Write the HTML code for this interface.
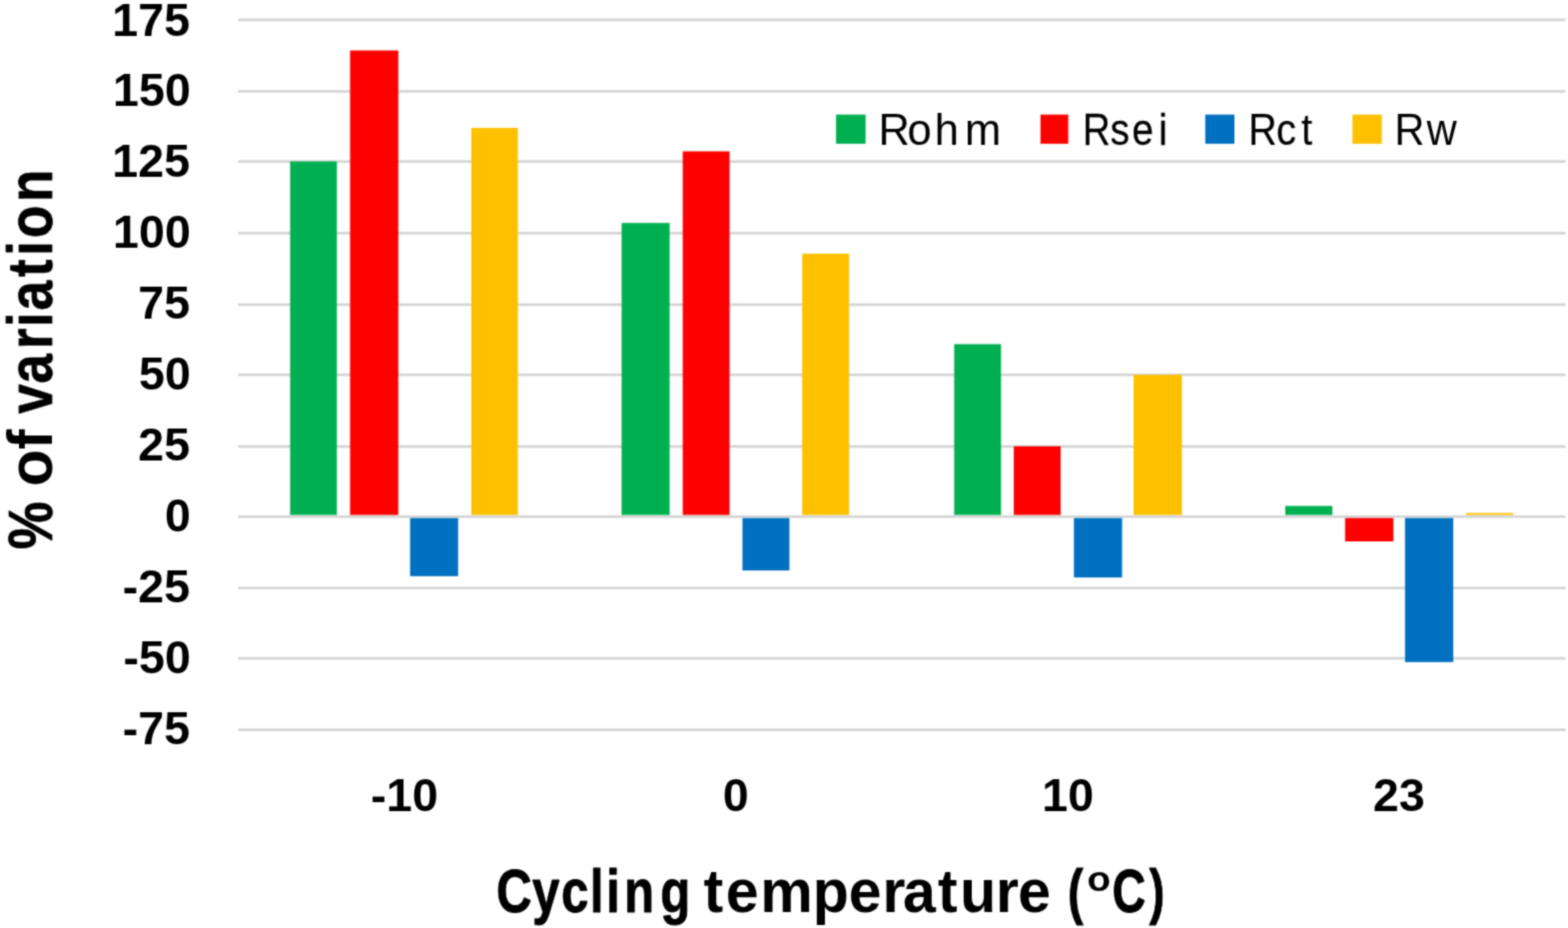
<!DOCTYPE html>
<html lang="en">
<head>
<meta charset="utf-8">
<title>% of variation vs cycling temperature</title>
<style>
html,body{margin:0;padding:0;background:#fff;}
body{width:1570px;height:929px;overflow:hidden;}
svg{display:block;}
text{font-family:"Liberation Sans",sans-serif;fill:#000;}
.b{font-weight:bold;}
</style>
</head>
<body>
<svg width="1570" height="929" viewBox="0 0 1570 929">
<defs>
<filter id="soft" x="0" y="0" width="1570" height="929" filterUnits="userSpaceOnUse" color-interpolation-filters="sRGB">
<feConvolveMatrix order="5" kernelMatrix="0.00009 0.00198 0.00548 0.00198 0.00009 0.00198 0.04220 0.11707 0.04220 0.00198 0.00548 0.11707 0.32480 0.11707 0.00548 0.00198 0.04220 0.11707 0.04220 0.00198 0.00009 0.00198 0.00548 0.00198 0.00009" edgeMode="duplicate" preserveAlpha="true"/>
</filter>
</defs>
<g filter="url(#soft)">
<rect x="0" y="0" width="1570" height="929" fill="#ffffff"/>

<g fill="#D5D5D5">
<rect x="238.3" y="18.55" width="1329.30" height="2.7"/>
<rect x="238.3" y="90.15" width="1329.30" height="2.7"/>
<rect x="238.3" y="160.35" width="1329.30" height="2.7"/>
<rect x="238.3" y="232.05" width="1329.30" height="2.7"/>
<rect x="238.3" y="303.65" width="1329.30" height="2.7"/>
<rect x="238.3" y="373.85" width="1329.30" height="2.7"/>
<rect x="238.3" y="445.65" width="1329.30" height="2.7"/>
<rect x="238.3" y="515.85" width="1329.30" height="2.7"/>
<rect x="238.3" y="587.35" width="1329.30" height="2.7"/>
<rect x="238.3" y="657.65" width="1329.30" height="2.7"/>
<rect x="238.3" y="729.25" width="1329.30" height="2.7"/>
</g>
<g>
<rect x="290.5" y="161.6" width="46.80" height="353.90" fill="#00B050"/>
<rect x="350.5" y="50.5" width="48.30" height="465.00" fill="#FF0000"/>
<rect x="410.6" y="518.6" width="48.10" height="58.20" fill="#0070C0"/>
<rect x="471.9" y="128.0" width="46.60" height="387.50" fill="#FFC000"/>
<rect x="622.4" y="223.2" width="48.10" height="292.30" fill="#00B050"/>
<rect x="683.6" y="151.5" width="46.90" height="364.00" fill="#FF0000"/>
<rect x="743.4" y="518.6" width="47.00" height="52.50" fill="#0070C0"/>
<rect x="803.2" y="253.9" width="46.90" height="261.60" fill="#FFC000"/>
<rect x="955.4" y="344.5" width="46.90" height="171.00" fill="#00B050"/>
<rect x="1015.1" y="446.8" width="46.90" height="68.70" fill="#FF0000"/>
<rect x="1075.3" y="518.6" width="48.20" height="59.50" fill="#0070C0"/>
<rect x="1135.0" y="375.2" width="48.40" height="140.30" fill="#FFC000"/>
<rect x="1286.9" y="506.5" width="47.20" height="9.00" fill="#00B050"/>
<rect x="1346.8" y="518.6" width="48.40" height="23.40" fill="#FF0000"/>
<rect x="1406.8" y="518.6" width="48.30" height="144.20" fill="#0070C0"/>
<rect x="1468.0" y="513.6" width="47.10" height="1.90" fill="#FFC000"/>
</g>
<g class="b" font-size="45.3">
<text x="112.31" y="35.50" textLength="77.85" lengthAdjust="spacingAndGlyphs">175</text>
<text x="113.04" y="106.47" textLength="77.85" lengthAdjust="spacingAndGlyphs">150</text>
<text x="112.31" y="177.44" textLength="77.85" lengthAdjust="spacingAndGlyphs">125</text>
<text x="113.04" y="248.41" textLength="77.85" lengthAdjust="spacingAndGlyphs">100</text>
<text x="138.26" y="319.38" textLength="51.90" lengthAdjust="spacingAndGlyphs">75</text>
<text x="138.99" y="390.35" textLength="51.90" lengthAdjust="spacingAndGlyphs">50</text>
<text x="138.26" y="461.32" textLength="51.90" lengthAdjust="spacingAndGlyphs">25</text>
<text x="164.94" y="532.29" textLength="25.95" lengthAdjust="spacingAndGlyphs">0</text>
<text x="122.73" y="603.26" textLength="67.44" lengthAdjust="spacingAndGlyphs">-25</text>
<text x="123.45" y="674.23" textLength="67.44" lengthAdjust="spacingAndGlyphs">-50</text>
<text x="122.73" y="745.20" textLength="67.44" lengthAdjust="spacingAndGlyphs">-75</text>
</g>
<g class="b" font-size="45.3">
<text x="371.20" y="811.8" textLength="67.44" lengthAdjust="spacingAndGlyphs">-10</text>
<text x="723.74" y="811.8" textLength="25.95" lengthAdjust="spacingAndGlyphs">0</text>
<text x="1043.24" y="811.8" textLength="51.90" lengthAdjust="spacingAndGlyphs">10</text>
<text x="1374.70" y="811.8" textLength="51.90" lengthAdjust="spacingAndGlyphs">23</text>
</g>
<g font-size="44.3">
<rect x="837.1" y="114.7" width="29.60" height="29.2" fill="#00B050"/>
<text y="145.2"><tspan x="879.59 908.38 935.79 965.94" textLength="116.30" lengthAdjust="spacingAndGlyphs">Rohm</tspan></text>
<rect x="1041.8" y="114.7" width="27.80" height="29.2" fill="#FF0000"/>
<text y="145.2"><tspan x="1083.91 1111.82 1133.57 1160.27" textLength="77.03" lengthAdjust="spacingAndGlyphs" stroke="#000" stroke-width="0.27" stroke-linejoin="round">Rsei</tspan></text>
<rect x="1206.8" y="114.7" width="29.20" height="29.2" fill="#0070C0"/>
<text y="145.2"><tspan x="1249.90 1277.94 1302.96" textLength="59.42" lengthAdjust="spacingAndGlyphs" stroke="#000" stroke-width="0.21" stroke-linejoin="round">Rct</tspan></text>
<rect x="1354.2" y="114.7" width="29.40" height="29.2" fill="#FFC000"/>
<text y="145.2"><tspan x="1396.34 1428.51" textLength="60.35" lengthAdjust="spacingAndGlyphs">Rw</tspan></text>
</g>
<text class="b" font-size="61.8"><tspan x="496.94 532.95 562.05 590.65 607.05 624.92 661.20" y="913.00" textLength="177.20" lengthAdjust="spacingAndGlyphs" stroke="#000" stroke-width="0.94" stroke-linejoin="round">Cycling</tspan> <tspan x="704.40 726.63 761.14 813.82 849.78 883.52 903.92 939.06 961.26 997.12 1019.21" y="913.00" textLength="341.51" lengthAdjust="spacingAndGlyphs">temperature</tspan> <tspan x="1069.32" y="913.00" textLength="15.32" lengthAdjust="spacingAndGlyphs" stroke="#000" stroke-width="1.00" stroke-linejoin="round">(</tspan><tspan x="1088.59" y="892.10" textLength="23.68" lengthAdjust="spacingAndGlyphs" font-size="35.0">o</tspan><tspan x="1113.83 1150.63" y="913.00" textLength="48.69" lengthAdjust="spacingAndGlyphs" stroke="#000" stroke-width="1.00" stroke-linejoin="round">C)</tspan></text>
<text class="b" font-size="63.2" transform="translate(51.9,549.4) rotate(-90)"><tspan x="-0.54" y="0.00" textLength="47.91" lengthAdjust="spacingAndGlyphs" stroke="#000" stroke-width="0.70" stroke-linejoin="round">%</tspan> <tspan x="62.40 99.40" y="0.00" textLength="57.39" lengthAdjust="spacingAndGlyphs">of</tspan> <tspan x="135.19 165.40 199.85 222.01 238.70 272.26 293.36 311.22 347.24" y="0.00" textLength="222.05" lengthAdjust="spacingAndGlyphs" stroke="#000" stroke-width="0.69" stroke-linejoin="round">variation</tspan></text>
</g>
</svg>
</body>
</html>
